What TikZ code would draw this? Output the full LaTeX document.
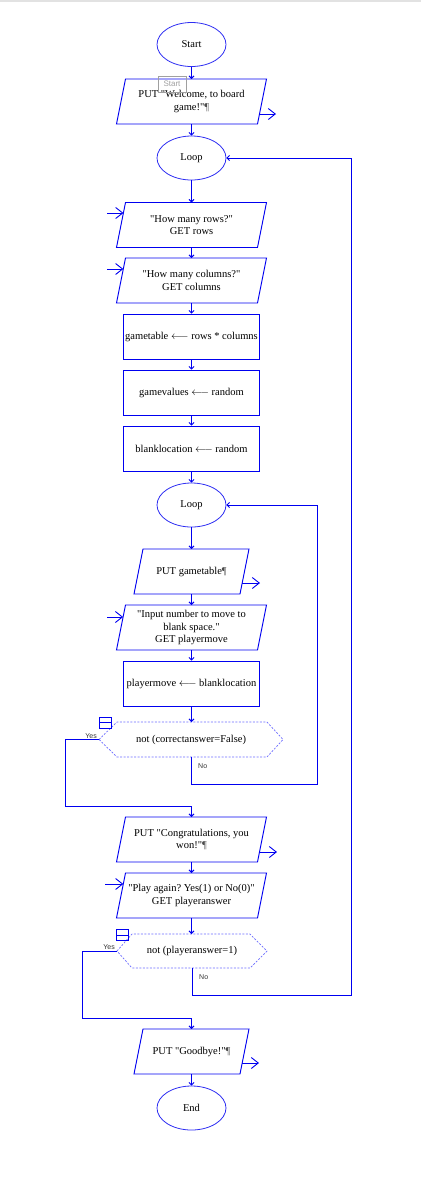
\documentclass[tikz,border=0pt]{standalone}
\usepackage{fontspec}
\setmainfont{Liberation Serif}[Ligatures=TeXOff]
\setsansfont{Liberation Sans}
\usetikzlibrary{arrows.meta,shapes.geometric}
\definecolor{FlowBlue}{HTML}{0000F0}
\definecolor{FlowOval}{HTML}{2E2EF2}
\definecolor{FlowDash}{HTML}{6B6BFF}
\definecolor{FlowRule}{HTML}{E2E2E2}
\definecolor{FlowTip}{HTML}{A0A0A0}
\newcommand{\parmark}{\textcolor{black!70}{¶}}
\frenchspacing

\begin{document}
\begin{tikzpicture}[x=1pt,y=-1pt,
    font=\fontsize{10.5}{12.5}\selectfont,
    terminal/.style={ellipse,draw=FlowOval,line width=.8pt,minimum width=69pt,minimum height=44pt,inner sep=0pt},
    inout/.style={rectangle,outer sep=0pt,minimum width=141pt,minimum height=45pt,inner sep=1pt,align=center},
    ioline/.style={draw=FlowBlue,line width=.9pt,line join=miter},
    process/.style={rectangle,draw=FlowBlue,line width=.9pt,minimum width=136pt,minimum height=45pt,
      inner sep=1pt,align=center},
    decision/.style={rectangle,outer sep=0pt,inner sep=1pt},
    hexline/.style={draw=FlowDash,dash pattern=on 2pt off 1.5pt,line width=.7pt},
    flow/.style={-{Straight Barb[length=2.5pt,width=5pt]},draw=FlowBlue,line width=.9pt},
    stub/.style={-{Straight Barb[length=7pt,width=11pt]},draw=FlowBlue,line width=.9pt},
    branch/.style={font=\sffamily\fontsize{7}{8}\selectfont,text=black!80,inner sep=1pt},
    collapse/.style={draw=FlowBlue,line width=.8pt,minimum width=12pt,minimum height=11pt,inner sep=0pt,
      path picture={\draw[FlowBlue,line width=.8pt] (path picture bounding box.west) -- (path picture bounding box.east);}}
  ]
    \useasboundingbox (0,0) rectangle (421,1179);
    \draw[FlowRule,line width=1.5pt] (0,0.75) -- (421,0.75);

    % main column
    \node[terminal] (start) at (191.5,44.5) {Start};
    \node[inout] (welcome) at (191.5,101.5) {PUT "Welcome, to board\\game!"\parmark};
    \node[terminal] (loopa) at (191.5,158) {Loop};
    \node[inout] (rows) at (191.5,225) {"How many rows?"\\GET rows};
    \node[inout] (cols) at (191.5,280.5) {"How many columns?"\\GET columns};
    \node[process] (gametable) at (191.5,336.5) {gametable $\longleftarrow$ rows * columns};
    \node[process] (gamevalues) at (191.5,392.5) {gamevalues $\longleftarrow$ random};
    \node[process] (blankloc) at (191.5,448.5) {blanklocation $\longleftarrow$ random};
    \node[terminal] (loopb) at (191.5,505) {Loop};
    \node[inout,minimum width=106pt] (putgame) at (191.5,571.5) {PUT gametable\parmark};
    \node[inout] (inputmove) at (191.5,627.5) {"Input number to move to\\blank space."\\GET playermove};
    \node[process] (playermove) at (191.5,683.5) {playermove $\longleftarrow$ blanklocation};
    \node[decision,minimum width=184pt,minimum height=35pt] (checkwin) at (191,739.5) {not (correctanswer=False)};
    \node[inout] (congrats) at (191.5,839.5) {PUT "Congratulations, you\\won!"\parmark};
    \node[inout] (playagain) at (191.5,895.5) {"Play again? Yes(1) or No(0)"\\GET playeranswer};
    \node[decision,minimum width=150pt,minimum height=34pt] (checkplay) at (192,951) {not (playeranswer=1)};
    \node[inout,minimum width=106pt] (goodbye) at (191.5,1051.5) {PUT "Goodbye!"\parmark};
    \node[terminal] (finish) at (191.5,1108) {End};

    % parallelogram outlines of the input/output steps
    \foreach \io in {welcome,rows,cols,putgame,inputmove,congrats,playagain,goodbye}
      \draw[ioline] ([xshift=-4.5pt]\io.south west) -- ([xshift=4.5pt]\io.north west)
        -- ([xshift=4.5pt]\io.north east) -- ([xshift=-4.5pt]\io.south east) -- cycle;

    % hexagon outlines of the two tests
    \draw[hexline] (checkwin.west) -- ([xshift=18pt]checkwin.north west) -- ([xshift=-16pt]checkwin.north east)
      -- (checkwin.east) -- ([xshift=-16pt]checkwin.south east) -- ([xshift=18pt]checkwin.south west) -- cycle;
    \draw[hexline] (checkplay.west) -- ([xshift=15pt]checkplay.north west) -- ([xshift=-17pt]checkplay.north east)
      -- (checkplay.east) -- ([xshift=-17pt]checkplay.south east) -- ([xshift=15pt]checkplay.south west) -- cycle;

    % hover box and fold buttons
    \node[draw=FlowTip,line width=.6pt,text=FlowTip,font=\sffamily\fontsize{8}{9}\selectfont,
      minimum width=28pt,minimum height=16pt,inner sep=0pt] (hover) at (172,84) {Start};
    \node[collapse] (winfold) at (105,722.5) {};
    \node[collapse] (playfold) at (122.5,935) {};

    % branch labels
    \node[branch,anchor=south east] (winyes) at ([xshift=-1pt]checkwin.west) {Yes};
    \node[branch,anchor=north west] (winno) at ([xshift=6pt,yshift=-5pt]checkwin.south) {No};
    \node[branch,anchor=south east] (playyes) at ([xshift=-1pt]checkplay.west) {Yes};
    \node[branch,anchor=north west] (playno) at ([xshift=6pt,yshift=-5pt]checkplay.south) {No};

    % straight flow
    \draw[flow] (start.south) -- (welcome.north);
    \draw[flow] (welcome.south) -- (loopa.north);
    \draw[flow] (loopa.south) -- (rows.north);
    \draw[flow] (rows.south) -- (cols.north);
    \draw[flow] (cols.south) -- (gametable.north);
    \draw[flow] (gametable.south) -- (gamevalues.north);
    \draw[flow] (gamevalues.south) -- (blankloc.north);
    \draw[flow] (blankloc.south) -- (loopb.north);
    \draw[flow] (loopb.south) -- (putgame.north);
    \draw[flow] (putgame.south) -- (inputmove.north);
    \draw[flow] (inputmove.south) -- (playermove.north);
    \draw[flow] (playermove.south) -- (playermove.south |- checkwin.north);
    \draw[flow] (congrats.south) -- (playagain.north);
    \draw[flow] (playagain.south) -- (playagain.south |- checkplay.north);
    \draw[flow] (goodbye.south) -- (finish.north);

    % branches
    \coordinate (winback) at (317,784);
    \coordinate (winjump) at (65,806);
    \draw[flow] (checkwin.south) |- (winback) |- (loopb.east);
    \draw[flow] (checkwin.west) -| (winjump) -| (congrats.north);
    \coordinate (playback) at (351,995);
    \coordinate (playjump) at (82,1018);
    \draw[flow] (checkplay.south) |- (playback) |- (loopa.east);
    \draw[flow] (checkplay.west) -| (playjump) -| (goodbye.north);

    % input and output stubs
    \coordinate (rows-in) at (107,213);
    \coordinate (cols-in) at (107,269);
    \coordinate (inputmove-in) at (107,617);
    \coordinate (playagain-in) at (105,884);
    \draw[stub] (rows-in) -- ([xshift=2.4pt]rows.west |- rows-in);
    \draw[stub] (cols-in) -- ([xshift=2.3pt]cols.west |- cols-in);
    \draw[stub] (inputmove-in) -- ([xshift=2.1pt]inputmove.west |- inputmove-in);
    \draw[stub] (playagain-in) -- ([xshift=2.3pt]playagain.west |- playagain-in);
    \coordinate (welcome-out) at (276,114);
    \coordinate (putgame-out) at (260,583);
    \coordinate (congrats-out) at (277,852);
    \coordinate (goodbye-out) at (259,1063);
    \draw[stub] ([xshift=-2.5pt]welcome.east |- welcome-out) -- (welcome-out);
    \draw[stub] ([xshift=-2.3pt]putgame.east |- putgame-out) -- (putgame-out);
    \draw[stub] ([xshift=-2.5pt]congrats.east |- congrats-out) -- (congrats-out);
    \draw[stub] ([xshift=-2.3pt]goodbye.east |- goodbye-out) -- (goodbye-out);
  \end{tikzpicture}
\end{document}
